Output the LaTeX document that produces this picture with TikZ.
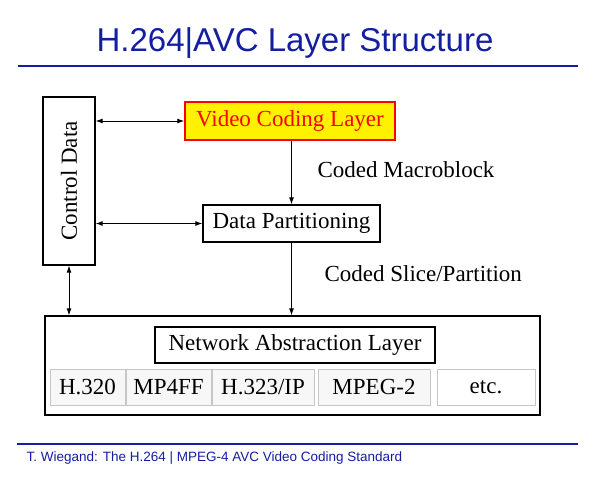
\documentclass[tikz,border=0pt]{standalone}
\usepackage{fontspec}
\usetikzlibrary{arrows.meta}
\setmainfont{Liberation Serif}
\setsansfont{Liberation Sans}
\definecolor{tb}{RGB}{20,30,160}
\begin{document}
\begin{tikzpicture}[x=1pt,y=-1pt,>={Latex[length=7pt,width=5pt]},
 bx/.style={draw,line width=1.3pt,inner sep=0pt},
 sub/.style={draw=gray!45,line width=1pt,fill=gray!6,inner sep=0pt,font=\fontsize{23}{23}\selectfont},
 lbl/.style={font=\fontsize{23}{23}\selectfont},
 ar/.style={->,line width=0.9pt}, dar/.style={<->,line width=0.9pt}]
\useasboundingbox (0,0) rectangle (600,483);
\node[font=\sffamily\fontsize{33}{33}\selectfont,text=tb] (title) at (295,43) {H.264|AVC Layer Structure};
\draw[tb,line width=1.5pt] (18,66) -- (578,66);
\node[bx,minimum width=52pt,minimum height=168pt] (cd) at (69,181) {};
\node[lbl,rotate=90] (cdt) at (cd) {Control Data};
\node[draw=red,line width=1.5pt,fill=yellow,text=red,minimum width=210pt,minimum height=38pt,inner sep=0pt,lbl] (vcl) at (290,121) {Video Coding Layer};
\node[bx,minimum width=177pt,minimum height=37pt,lbl] (dp) at (291.5,223.5) {Data Partitioning};
\node[bx,minimum width=495pt,minimum height=99pt] (nal) at (292.5,365.5) {};
\node[bx,minimum width=280pt,minimum height=36pt,lbl] (nali) at (295,345) {Network Abstraction Layer};
\node[sub,minimum width=75pt,minimum height=36pt] (s1) at (87.5,387) {H.320};
\node[sub,minimum width=85pt,minimum height=36pt] (s2) at (168.5,387) {MP4FF};
\node[sub,minimum width=102pt,minimum height=36pt] (s3) at (263,387) {H.323/IP};
\node[sub,minimum width=112pt,minimum height=36pt] (s4) at (374,387) {MPEG-2};
\node[sub,fill=white,minimum width=98pt,minimum height=36pt] (s5) at (486,387) {etc.};
\node[lbl,anchor=west] (cm) at (314,170) {Coded Macroblock};
\node[lbl,anchor=west] (cs) at (321,274) {Coded Slice/Partition};
\draw[dar] (cd.east |- vcl) -- (vcl.west);
\draw[dar] (cd.east |- dp) -- (dp.west);
\draw[ar] (vcl.south -| dp) -- (dp.north);
\draw[ar] (dp.south) -- (dp.south |- nal.north);
\draw[dar] (cd.south) -- (cd.south |- nal.north);
\draw[tb,line width=2.5pt] (17,444) -- (578,444);
\node[font=\sffamily\fontsize{13.5}{14}\selectfont,text=tb,anchor=west] (ft) at (23,458) {T. Wiegand: The H.264 | MPEG-4 AVC Video Coding Standard};
\end{tikzpicture}
\end{document}
